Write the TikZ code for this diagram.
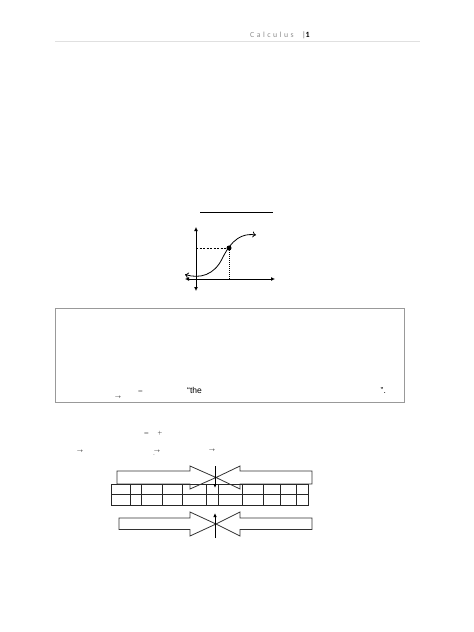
\documentclass[tikz,border=0pt]{standalone}
\usepackage{fontspec}
\setmainfont{Liberation Sans}
\newfontfamily\hdrfont[LetterSpace=32]{Carlito}
\newfontfamily\numfont{Carlito}
\usetikzlibrary{arrows.meta}
\tikzstyle{axis} = [line width=0.8pt,{Latex[length=4pt,width=4pt]}-{Latex[length=4pt,width=4pt]}]
\tikzstyle{curve} = [line width=0.8pt,{To[length=3.5pt,width=6pt]}-{To[length=3.5pt,width=6pt]}]
\tikzstyle{block} = [line width=0.8pt, draw=black!80]
\tikzstyle{marker} = [line width=0.8pt,-{Latex[length=4pt,width=3.5pt]}]
\tikzstyle{txt} = [font=\fontsize{8.5}{10}\selectfont]
\tikzstyle{sym} = [font=\fontsize{5}{6}\selectfont]

\begin{document}
\begin{tikzpicture}[x=1pt, y=-1pt, every node/.style={inner sep=0pt}]
        \useasboundingbox (0,0) rectangle (474,632);
        % Header
        \node[anchor=base west, text=black!45] (H) at (250,37) {\hdrfont\fontsize{7.8}{9}\selectfont Calculus};
        \node[anchor=base west, text=black!60] (P) at (302,37) {\numfont\fontsize{8}{9}\selectfont|};
        \node[anchor=base west] (N) at (305.5,37) {\numfont\fontsize{8}{9}\selectfont\bfseries 1};
        \coordinate (HL) at (55,41);
        \coordinate (HR) at (420,41);
        \draw[black!12, line width=0.5pt] (HL) -- (HR);

        % Rule above the graph
        \coordinate (R1) at (200,212);
        \coordinate (R2) at (273,212);
        \draw[line width=0.8pt] (R1) -- (R2);

        % Graph
        \coordinate (YT) at (196,227);
        \coordinate (YB) at (196,291);
        \coordinate (XL) at (185,279);
        \coordinate (XR) at (275,279);
        \coordinate (Pt) at (229,248);
        \coordinate (PY) at (196,248);
        \coordinate (PX) at (229,279);
        \draw[axis] (YB) -- (YT);
        \draw[axis] (XL) -- (XR);
        \draw[line width=0.7pt, dash pattern=on 2pt off 1.5pt] (PY) -- (Pt);
        \draw[line width=0.6pt, dash pattern=on 1pt off 1pt] (Pt) -- (PX);
        \draw[curve] (185,274.5) .. controls (200,279) and (214,275) .. (222,259)
                     .. controls (227,249) and (236,232) .. (256,235);
        \fill (Pt) circle (2.5pt);

        % Box
        \draw[black!40, line width=0.8pt] (55,308) rectangle (404,402);
        \node[sym] (A1) at (118,397.5) {$\rightarrow$};
        \node[sym] (E1) at (140.5,392) {$=$};
        \node[txt, anchor=base west] (T1) at (187,393.5) {“the};
        \node[txt, anchor=base west] (T2) at (380.5,393.5) {”.};

        % Line below the box
        \node[sym] (E2) at (146.5,433.5) {$=$};
        \node[sym] (S2) at (160,433.5) {$+$};
        \node[sym] (A2) at (80,451.5) {$\rightarrow$};
        \node[sym] (A3) at (157,451.5) {$\rightarrow$};
        \node[sym] (D3) at (154,455) {.};
        \node[sym] (A4) at (212,451) {$\rightarrow$};

        % Table
        \draw[line width=0.8pt, black!85] (111,484) rectangle (308,505);
        \draw[line width=0.8pt, black!85] (111,494.5) -- (308,494.5);
        \foreach \x in {130,141.5,162,182.5,206.5,218,242.5,263,280,296.7}
            \draw[line width=0.8pt, black!85] (\x,484) -- (\x,505);

        % Upper pair of block arrows
        \draw[block] (117,471) -- (190,471) -- (190,466) -- (216,477.5) -- (190,489) -- (190,484) -- (117,484) -- cycle;
        \draw[block] (312,471) -- (240,471) -- (240,466) -- (216,477.5) -- (240,489) -- (240,484) -- (312,484) -- cycle;
        \coordinate (U1) at (215,466);
        \coordinate (U2) at (215,488);
        \draw[marker] (U1) -- (U2);

        % Lower pair of block arrows
        \draw[block] (119,518) -- (190,518) -- (190,512) -- (216,524) -- (190,536) -- (190,529.5) -- (119,529.5) -- cycle;
        \draw[block] (312,518) -- (240,518) -- (240,512) -- (216,524) -- (240,536) -- (240,529.5) -- (312,529.5) -- cycle;
        \coordinate (L1) at (215,538);
        \coordinate (L2) at (215,513);
        \draw[marker] (L1) -- (L2);
      \end{tikzpicture}
\end{document}
